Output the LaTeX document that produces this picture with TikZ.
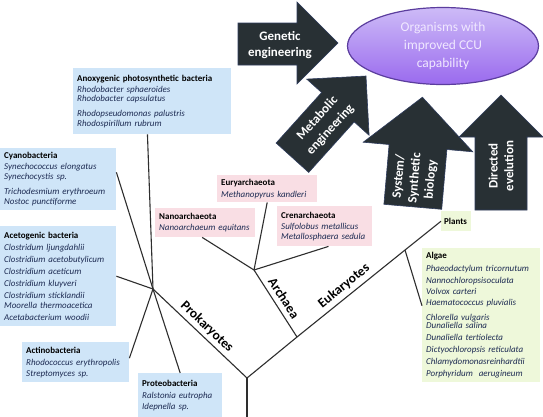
\documentclass[tikz,border=0pt]{standalone}
\usepackage{fontspec}
\setmainfont{Carlito}
\usetikzlibrary{shapes.geometric,calc}
\definecolor{bluebox}{HTML}{CFE5F8}
\definecolor{pinkbox}{HTML}{F9DEE4}
\definecolor{greenbox}{HTML}{EEF8DA}
\definecolor{navy}{HTML}{1C2A52}
\definecolor{treeline}{HTML}{2E2E2E}
\definecolor{arrowfill}{HTML}{283034}
\definecolor{arrowedge}{HTML}{2F3D5E}
\definecolor{ellfillA}{HTML}{CDBBF7}
\definecolor{ellfillB}{HTML}{9A6AEE}
\definecolor{elledge}{HTML}{5B3D9E}
\definecolor{elltext}{HTML}{F0E8FF}
\newcommand{\taxhead}[1]{{\color{black}\bfseries #1}}
\begin{document}
\begin{tikzpicture}[x=1bp,y=-1bp,
  taxon/.style={anchor=north west, inner xsep=4bp, inner ysep=0bp, align=left, text=navy, font=\fontsize{9}{9.5}\selectfont},
  bluetaxon/.style={taxon, fill=bluebox},
  pinktaxon/.style={taxon, fill=pinkbox},
  greentaxon/.style={taxon, fill=greenbox},
  branch/.style={draw=treeline, line width=1.1bp},
  bigarrow/.style={fill=arrowfill, draw=arrowedge, line width=0.6bp},
  arrowtext/.style={text=white, font=\fontsize{13}{16}\selectfont\bfseries, align=center},
  clade/.style={font=\fontsize{13.5}{15}\selectfont\bfseries, text=black},
]
\fill[white] (0,0) rectangle (543,416);
\useasboundingbox (0,0) rectangle (543,416);

% ---- taxon boxes ----
\node[bluetaxon, text width=150bp, minimum height=66bp] (anox) at (73,68) {%
\taxhead{Anoxygenic photosynthetic bacteria}\\[1.5bp]
\textit{Rhodobacter sphaeroides}\\
\textit{Rhodobacter capsulatus}\\[5.5bp]
\textit{Rhodopseudomonas palustris}\\
\textit{Rhodospirillum rubrum}};

\node[bluetaxon, text width=108bp, minimum height=62bp] (cyano) at (0,148) {%
\taxhead{Cyanobacteria}\\[1.5bp]
\textit{Synechococcus elongatus}\\
\textit{Synechocystis sp.}\\[6bp]
\textit{Trichodesmium erythroeum}\\
\textit{Nostoc punctiforme}};

\node[bluetaxon, text width=108bp, minimum height=100bp] (acet) at (0,226) {%
\taxhead{Acetogenic bacteria}\\[3bp]
\textit{Clostridum ljungdahlii}\\[2.5bp]
\textit{Clostridium acetobutylicum}\\[2.5bp]
\textit{Clostridium aceticum}\\[2.5bp]
\textit{Clostridium kluyveri}\\[2.5bp]
\textit{Clostridium sticklandii}\\
\textit{Moorella thermoacetica}\\[2.5bp]
\textit{Acetabacterium woodii}};

\node[bluetaxon, text width=99bp, minimum height=40bp] (actino) at (22,342) {%
\taxhead{Actinobacteria}\\[2.5bp]
\textit{Rhodococcus erythropolis}\\[1.5bp]
\textit{Streptomyces sp.}};

\node[bluetaxon, text width=76bp, minimum height=44bp] (proteo) at (138,373) {%
\taxhead{Proteobacteria}\\[2.5bp]
\textit{Ralstonia eutropha}\\[1.5bp]
\textit{Idepnella sp.}};

\node[pinktaxon, text width=92bp, minimum height=27bp] (eury) at (217,175) {%
\taxhead{Euryarchaeota}\\[2.5bp]
\textit{Methanopyrus kandleri}};

\node[pinktaxon, text width=92bp, minimum height=29bp] (nano) at (155,208) {%
\taxhead{Nanoarchaeota}\\[1.5bp]
\textit{Nanoarchaeum equitans}};

\node[pinktaxon, text width=87bp, minimum height=40bp] (cren) at (277,206) {%
\taxhead{Crenarchaeota}\\[1.5bp]
\textit{Sulfolobus metallicus}\\[0.5bp]
\textit{Metallosphaera sedula}};

\node[greentaxon, inner xsep=3bp, text width=24bp, minimum height=20bp] (plants) at (441,211) {%
\taxhead{Plants}};

\node[greentaxon, text width=110bp, minimum height=134bp] (algae) at (422,248) {%
\taxhead{Algae}\\[3.5bp]
\textit{Phaeodactylum tricornutum}\\[2.5bp]
\textit{Nannochloropsisoculata}\\[1.5bp]
\textit{Volvox carteri}\\[1.5bp]
\textit{Haematococcus pluvialis}\\[5.5bp]
\textit{Chlorella vulgaris}\\[-1bp]
\textit{Dunaliella salina}\\[2.5bp]
\textit{Dunaliella tertiolecta}\\[2.5bp]
\textit{Dictyochloropsis reticulata}\\[2.5bp]
\textit{Chlamydomonasreinhardtii}\\[2.5bp]
\textit{Porphyridum\ \ aerugineum}};

% ---- tree ----
\coordinate (P) at (153,289);
\coordinate (R) at (247,378);
\coordinate (Rb) at (247,417);
\coordinate (A0) at (297,337);
\coordinate (A) at (254,270);
\coordinate (E) at (405,250);

\draw[branch] (Rb) -- (R);
\draw[branch] (R) -- (P);
\draw[branch] (R) -- (A0) -- (E) -- (plants.west);
\draw[branch] (A0) -- (A);
\draw[branch] (A) -- ($(nano.south west)!0.47!(nano.south east)$);
\draw[branch] (A) -- (eury.south);
\draw[branch] (A) -- ($(cren.south west)!0.54!(cren.south east)$);
\draw[branch] (E) -- ($(algae.north west)!0.43!(algae.south west)$);
\draw[branch] (P) -- ($(anox.south west)!0.47!(anox.south east)$);
\draw[branch] (P) -- ($(cyano.north east)!0.39!(cyano.south east)$);
\draw[branch] (P) -- (acet.east);
\draw[branch] (P) -- ($(actino.north east)!0.4!(actino.south east)$);
\draw[branch] (P) -- (proteo.north);

\node[clade, rotate=-43.4] (lprok) at (207,327) {Prokaryotes};
\node[clade, rotate=-57] (larch) at (284,298) {Archaea};
\node[clade, rotate=39] (leuk) at (344,286) {Eukaryotes};

% ---- block arrows ----
\path[bigarrow] (238,23) -- (297,23) -- (297,2) -- (338,43) -- (297,84) -- (297,65) -- (238,65) -- cycle;
\node[arrowtext] (genT) at (280,45) {Genetic\\engineering};

\path[bigarrow] (276.1,143.0) -- (321.6,92.5) -- (306.7,79.1) -- (366,76) -- (369.1,135.3) -- (354.2,121.9) -- (308.7,172.4) -- cycle;
\node[arrowtext, rotate=48, font=\fontsize{13}{17.5}\selectfont\bfseries] (metT) at (324,124) {Metabolic\\engineering};

\path[bigarrow] (475,210) -- (475,137) -- (459,137) -- (501,95) -- (543,137) -- (527,137) -- (527,210) -- cycle;
\node[arrowtext, rotate=90] (dirT) at (501,166) {Directed\\evelution};

\path[bigarrow] (383.9,204.3) -- (389.1,144.5) -- (363.2,142.2) -- (422.4,97.2) -- (472.8,151.8) -- (446.9,149.5) -- (441.7,209.3) -- cycle;
\node[arrowtext, rotate=85] (sysT) at (415,178) {System/\\Synthetic\\biology};

% ---- goal ----
\node[ellipse, minimum width=191bp, minimum height=77bp, draw=elledge, line width=1.2bp,
  top color=ellfillA, bottom color=ellfillB, text=elltext, align=center,
  font=\fontsize{13.5}{18}\selectfont, inner sep=0pt] (goal) at (443,46)
  {Organisms with\\improved CCU\\capability};
\end{tikzpicture}
\end{document}
